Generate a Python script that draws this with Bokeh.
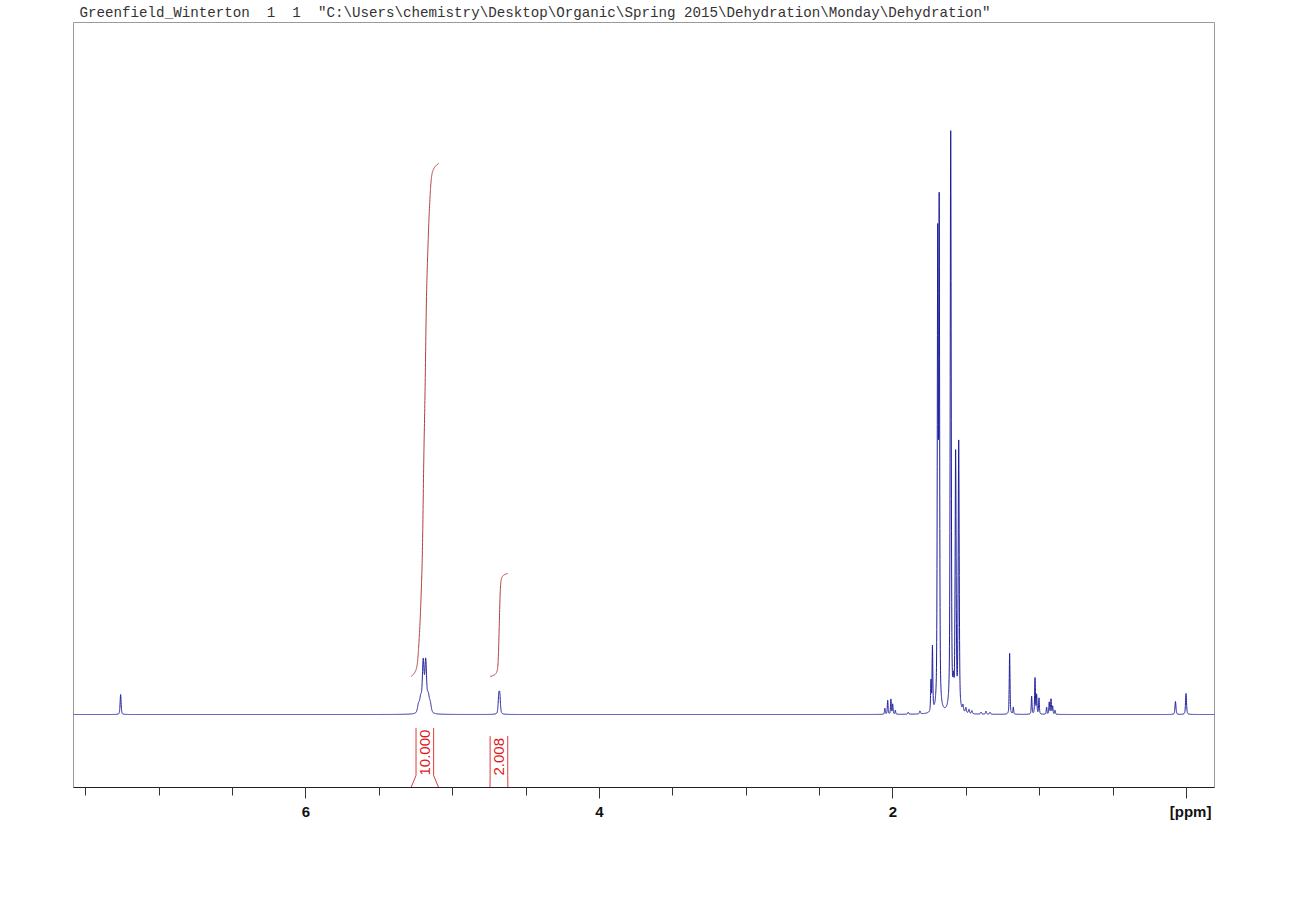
import numpy as np
from bokeh.plotting import figure
from bokeh.models import Range1d, FixedTicker, Label
from bokeh.embed import file_html
from bokeh.resources import INLINE

NB = "\u00a0"
TITLE = ('Greenfield_Winterton' + NB * 2 + '1' + NB * 2 + '1' + NB * 2 +
         '"C:\\Users\\chemistry\\Desktop\\Organic\\Spring 2015\\Dehydration\\Monday\\Dehydration"')

# ---- data: line positions (ppm), heights, half widths (ppm)
peak_ppm = [7.263,
            5.233, 5.218, 5.201, 5.184, 5.167, 5.153,
            4.686, 4.679,
            2.055, 2.036, 2.014, 2.002, 1.984,
            1.896, 1.816,
            1.741, 1.731,
            1.695, 1.685,
            1.6065, 1.588,
            1.573, 1.552,
            1.523, 1.503, 1.482, 1.462,
            1.400, 1.366, 1.339,
            1.205, 1.180,
            1.055, 1.032, 1.021, 1.005,
            0.953, 0.935, 0.923, 0.912, 0.896,
            0.075, 0.003]
peak_height = [20,
               8, 14, 50, 50, 16, 9,
               17, 17,
               6, 14, 15, 10, 4,
               2, 3,
               30, 64,
               462, 495,
               580, 20,
               255, 268,
               6, 5, 4, 3,
               2, 3, 2,
               61, 7,
               18, 36, 19, 16,
               7, 12, 15, 8, 4,
               13, 21]
peak_hw = [0.004,
           0.008, 0.008, 0.007, 0.007, 0.008, 0.008,
           0.005, 0.005,
           0.003, 0.003, 0.003, 0.003, 0.003,
           0.004, 0.004,
           0.003, 0.003,
           0.0035, 0.0035,
           0.004, 0.004,
           0.004, 0.004,
           0.004, 0.004, 0.004, 0.004,
           0.004, 0.004, 0.004,
           0.003, 0.003,
           0.003, 0.003, 0.003, 0.003,
           0.003, 0.003, 0.003, 0.003, 0.003,
           0.004, 0.004]

# integrals: limits (ppm) and values
int_hi = [5.284, 4.746]
int_lo = [5.096, 4.624]
int_value = [10.000, 2.008]
int_labels = ["10.000", "2.008"]

X_LEFT, X_RIGHT = 7.584, -0.191
Y_BOTTOM, Y_TOP = -73, 692
INT_OFFSET = 38
INT_SCALE = 51.3

# ---- build spectrum from line list (pseudo-Voigt)
x = np.arange(X_RIGHT, X_LEFT, 0.0005)
y = np.zeros_like(x)
eta = 0.5
for c, h, w in zip(peak_ppm, peak_height, peak_hw):
    d = ((x - c) / w) ** 2
    y += h * (eta / (1 + d) + (1 - eta) * np.exp(-np.log(2) * d))

p = figure(width=1290, height=895,
           x_range=Range1d(X_LEFT, X_RIGHT), y_range=Range1d(Y_BOTTOM, Y_TOP),
           output_backend="svg", toolbar_location=None,
           y_axis_location=None,
           min_border_left=73, min_border_right=76,
           min_border_top=22, min_border_bottom=108)
p.xgrid.visible = False
p.ygrid.visible = False
p.outline_line_color = "#9a9a9a"
p.outline_line_width = 1
p.background_fill_color = "white"
p.border_fill_color = "white"

p.title.text = TITLE
p.title.text_font = "Liberation Mono"
p.title.text_font_size = "14.2px"
p.title.text_font_style = "normal"
p.title.text_color = "#333333"
p.title.align = "left"
p.title.offset = 6
p.title.standoff = 3

ax = p.xaxis[0]
ax.ticker = FixedTicker(ticks=[0, 2, 4, 6],
                        minor_ticks=[v * 0.5 for v in range(0, 16)])
ax.major_label_overrides = {0: NB * 2 + "[ppm]"}
ax.axis_line_color = "#222222"
ax.major_tick_line_color = "#333333"
ax.minor_tick_line_color = "#333333"
ax.major_tick_out = 11
ax.major_tick_in = 0
ax.minor_tick_out = 8
ax.minor_tick_in = 0
ax.major_label_text_font = "Liberation Sans"
ax.major_label_text_font_style = "bold"
ax.major_label_text_font_size = "15px"
ax.major_label_text_color = "#111111"
ax.major_label_standoff = 4

p.line(x, y, line_color="#1e1e9c", line_width=1)

# integral curves
for hi, lo, val in zip(int_hi, int_lo, int_value):
    sel = (x >= lo) & (x <= hi)
    xs = x[sel][::-1]
    ys = y[sel][::-1]
    cum = np.cumsum(ys)
    frac = cum / cum[-1]
    p.line(xs, INT_OFFSET + val * INT_SCALE * frac, line_color="#b0403a", line_width=1)

# integral labels and brackets
KNEE = -61
PX_PER_PPM = 146.75
half = 8.8 / PX_PER_PPM
for hi, lo, lab in zip(int_hi, int_lo, int_labels):
    mid = (hi + lo) / 2
    hw = min(half, (hi - lo) / 2)
    top = KNEE + len(lab) * 7.9
    p.line([hi, mid + hw, mid + hw], [Y_BOTTOM, KNEE, top], line_color="#dd3a3a", line_width=1)
    p.line([lo, mid - hw, mid - hw], [Y_BOTTOM, KNEE, top], line_color="#dd3a3a", line_width=1)
    p.add_layout(Label(x=mid, y=KNEE, text=lab, angle=np.pi / 2,
                       text_align="left", text_baseline="middle",
                       text_font="Liberation Sans", text_font_size="15px",
                       text_color="#e01a1a"))

open("out.html", "w").write(file_html(p, INLINE))
